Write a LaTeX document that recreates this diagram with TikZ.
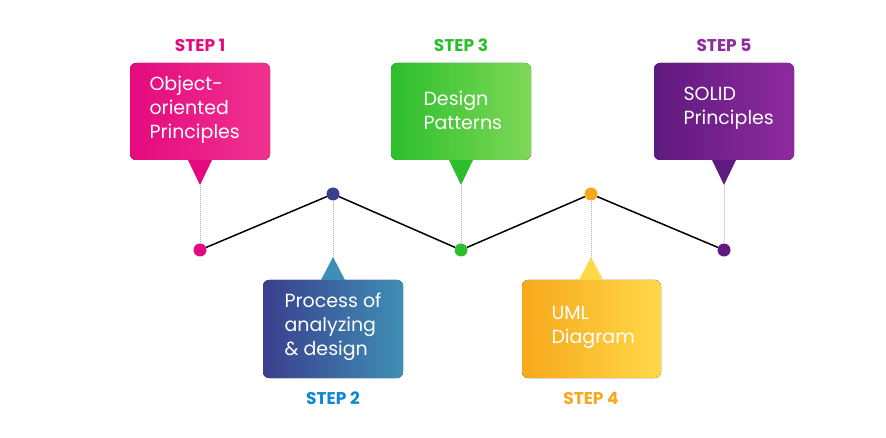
\documentclass[tikz,border=0pt]{standalone}
\usepackage{fontspec}
\setmainfont{Poppins}
\begin{document}
\begin{tikzpicture}[x=1pt,y=-1pt,
  lab/.style={font=\bfseries\fontsize{17}{19}\selectfont},
  txt/.style={text=white,font=\fontsize{19}{24}\selectfont,align=left,anchor=west},
  dotl/.style={gray!60,densely dotted,line width=1pt},
  pt/.style={circle,minimum size=13pt,inner sep=0pt}]
\useasboundingbox[fill=white] (0,0) rectangle (886,438);
\definecolor{cA}{HTML}{E5097F}\definecolor{cAl}{HTML}{F0338F}
\definecolor{cB}{HTML}{3A3E8E}\definecolor{cBl}{HTML}{3E8FB5}
\definecolor{cC}{HTML}{2DBE2D}\definecolor{cCl}{HTML}{7ED957}
\definecolor{cD}{HTML}{F7A81B}\definecolor{cDl}{HTML}{FFD84A}
\definecolor{cE}{HTML}{5E1A7E}\definecolor{cEl}{HTML}{8E2A9E}
% connectors
\node[pt,fill=cA] (d1) at (200,250) {};
\node[pt,fill=cB] (d2) at (333,194) {};
\node[pt,fill=cC] (d3) at (461,250) {};
\node[pt,fill=cD] (d4) at (591,194) {};
\node[pt,fill=cE] (d5) at (724,250) {};
\draw[line width=1.5pt] (d1)--(d2)--(d3)--(d4)--(d5);
% top boxes
\foreach \x/\c/\cl/\n in {200/cA/cAl/1,461/cC/cCl/3,724/cE/cEl/5}{
  \fill[left color=\c,right color=\cl,rounded corners=6] (\x-70,63) rectangle (\x+70,160);
  \fill[\c] (\x-12,160) -- (\x+12,160) -- (\x,185) -- cycle;
  \coordinate (tb\n) at (\x,185);
}
% bottom boxes
\fill[left color=cB,right color=cBl,rounded corners=6] (263,280) rectangle (403,378);
\fill[cBl] (321,280) -- (345,280) -- (333,257) -- cycle;
\coordinate (bb2) at (333,257);
\fill[left color=cD,right color=cDl,rounded corners=6] (522,280) rectangle (661,378);
\fill[cDl] (579,280) -- (603,280) -- (591,257) -- cycle;
\coordinate (bb4) at (591,257);
\draw[dotl] (tb1)--(d1); \draw[dotl] (tb3)--(d3); \draw[dotl] (tb5)--(d5);
\draw[dotl] (d2)--(bb2); \draw[dotl] (d4)--(bb4);
% labels
\node[lab,text=cA] (s1) at (200,45) {STEP 1};
\node[lab,text=cC] (s3) at (461,45) {STEP 3};
\node[lab,text=cEl] (s5) at (724,45) {STEP 5};
\node[lab,text=cyan!70!blue] (s2) at (333,398) {STEP 2};
\node[lab,text=cD] (s4) at (591,398) {STEP 4};
\node[txt] (t1) at (146,110) {Object-\\oriented\\Principles};
\node[txt] (t3) at (420,110) {Design\\Patterns};
\node[txt] (t5) at (680,108) {SOLID\\Principles};
\node[txt] (t2) at (281,327) {Process of\\analyzing\\\& design};
\node[txt] (t4) at (548,327) {UML\\Diagram};
\end{tikzpicture}
\end{document}
